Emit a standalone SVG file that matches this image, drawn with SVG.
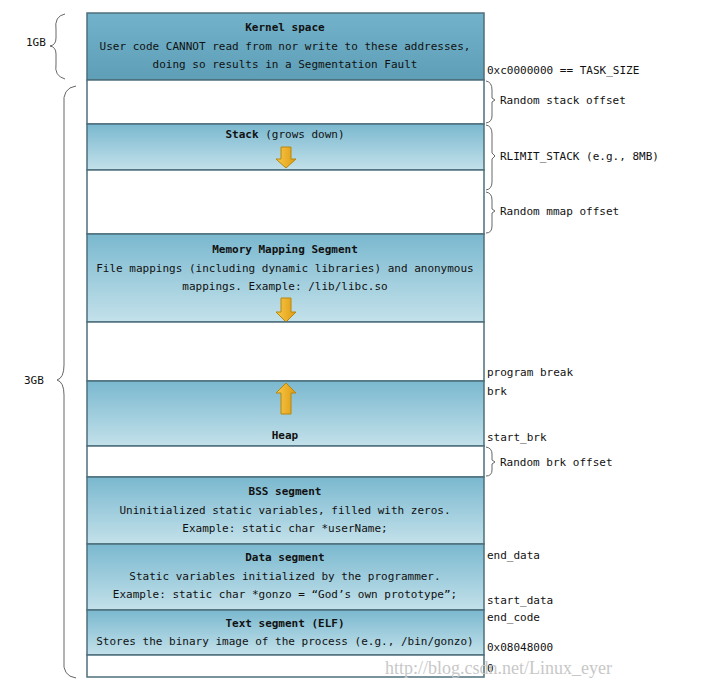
<svg xmlns="http://www.w3.org/2000/svg" width="706" height="688" viewBox="0 0 706 688">
<style>
text{font-family:"DejaVu Sans Mono","Liberation Mono",monospace;font-size:11px;fill:#111}
.t{text-anchor:middle}
.b{font-weight:bold}
.seg{fill:url(#g);stroke:#4d6f7c;stroke-width:1.5}
.emp{fill:#fff;stroke:#4d6f7c;stroke-width:1.5}
.br{fill:none;stroke:#666;stroke-width:1}
.ar{fill:url(#y);stroke:#b8860b;stroke-width:1}
</style>
<defs>
<linearGradient id="g" x1="0" y1="0" x2="0" y2="1"><stop offset="0" stop-color="#7ab8cf"/><stop offset="1" stop-color="#c3e1ea"/></linearGradient>
<linearGradient id="k" x1="0" y1="0" x2="0" y2="1"><stop offset="0" stop-color="#72b2ca"/><stop offset="1" stop-color="#5e9fb7"/></linearGradient>
<linearGradient id="y" x1="0" y1="0" x2="1" y2="0"><stop offset="0" stop-color="#f7c94a"/><stop offset="1" stop-color="#e09a10"/></linearGradient>
</defs>
<rect width="706" height="688" fill="#fff"/>
<g id="kernel"><rect x="87" y="13" width="397" height="67" fill="url(#k)" stroke="#4d6f7c" stroke-width="1.5"/>
<text x="285" y="31" class="t b">Kernel space</text>
<text x="285" y="50" class="t">User code CANNOT read from nor write to these addresses,</text>
<text x="285" y="68" class="t">doing so results in a Segmentation Fault</text></g>
<g id="gap1"><rect x="87" y="80" width="397" height="44" class="emp"/></g>
<g id="stack"><rect x="87" y="124" width="397" height="46" class="seg"/>
<text x="285" y="138" class="t"><tspan class="b">Stack</tspan> (grows down)</text>
<path class="ar" d="M281 147h10v12h5l-10 9-10-9h5z"/></g>
<g id="gap2"><rect x="87" y="170" width="397" height="64" class="emp"/></g>
<g id="mmap"><rect x="87" y="234" width="397" height="88" class="seg"/>
<text x="285" y="253" class="t b">Memory Mapping Segment</text>
<text x="285" y="272" class="t">File mappings (including dynamic libraries) and anonymous</text>
<text x="285" y="290" class="t">mappings. Example: /lib/libc.so</text>
<path class="ar" d="M281 298h10v14h5l-10 10-10-10h5z"/></g>
<g id="gap3"><rect x="87" y="322" width="397" height="59" class="emp"/></g>
<g id="heap"><rect x="87" y="381" width="397" height="65" class="seg"/>
<path class="ar" d="M286 383l10 10h-5v21h-10v-21h-5z"/>
<text x="285" y="439" class="t b">Heap</text></g>
<g id="gap4"><rect x="87" y="446" width="397" height="31" class="emp"/></g>
<g id="bss"><rect x="87" y="477" width="397" height="67" class="seg"/>
<text x="285" y="495" class="t b">BSS segment</text>
<text x="285" y="514" class="t">Uninitialized static variables, filled with zeros.</text>
<text x="285" y="532" class="t">Example: static char *userName;</text></g>
<g id="data"><rect x="87" y="544" width="397" height="66" class="seg"/>
<text x="285" y="561" class="t b">Data segment</text>
<text x="285" y="580" class="t">Static variables initialized by the programmer.</text>
<text x="285" y="598" class="t">Example: static char *gonzo = “God’s own prototype”;</text></g>
<g id="text"><rect x="87" y="610" width="397" height="45" class="seg"/>
<text x="285" y="627" class="t b">Text segment (ELF)</text>
<text x="285" y="645" class="t">Stores the binary image of the process (e.g., /bin/gonzo)</text></g>
<g id="gap5"><rect x="87" y="655" width="397" height="22" class="emp"/></g>
<g id="braces">
<path class="br" d="M65 14Q54 16 56 30V38Q56 45 50 46Q56 47 56 54V64Q54 76 65 79"/>
<path class="br" d="M76 86Q62 88 64 105V365Q64 378 57 380Q64 382 64 395V660Q62 676 76 678"/>
<path class="br" d="M486 81Q492 82 492 90V98L495 100L492 102V116Q492 122 486 123"/>
<path class="br" d="M486 125Q492 126 492 134V153L495 156L492 159V182Q492 189 486 190"/>
<path class="br" d="M486 192Q492 193 492 200V209L495 211L492 213V226Q492 233 486 233"/>
<path class="br" d="M486 447Q492 448 492 454V460L495 462L492 464V470Q492 476 486 476"/>
</g>
<g id="labels">
<text x="26" y="46">1GB</text>
<text x="24" y="384">3GB</text>
<text x="487" y="74">0xc0000000 == TASK_SIZE</text>
<text x="500" y="104">Random stack offset</text>
<text x="500" y="160">RLIMIT_STACK (e.g., 8MB)</text>
<text x="500" y="215">Random mmap offset</text>
<text x="487" y="376">program break</text>
<text x="487" y="395">brk</text>
<text x="487" y="441">start_brk</text>
<text x="500" y="466">Random brk offset</text>
<text x="487" y="559">end_data</text>
<text x="487" y="604">start_data</text>
<text x="487" y="621">end_code</text>
<text x="487" y="651">0x08048000</text>
<text x="487" y="672">0</text>
<text x="385" y="674" style="font-family:'Liberation Serif',serif;font-size:18px;fill:#c8c8c8">http://blog.csdn.net/Linux_eyer</text>
</g>
</svg>
